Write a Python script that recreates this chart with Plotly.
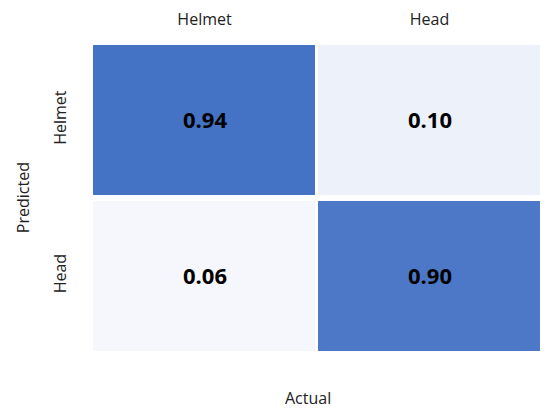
import plotly.graph_objects as go

actual = ["Helmet", "Head"]
predicted = ["Helmet", "Head"]
values = [
    [0.94, 0.10],
    [0.06, 0.90],
]

fig = go.Figure(
    go.Heatmap(
        x=actual,
        y=predicted,
        z=values,
        colorscale=[[0, "#f5f7fc"], [1, "#4472c4"]],
        showscale=False,
        xgap=3,
        ygap=6,
        texttemplate="<b>%{z:.2f}</b>",
        textfont=dict(size=22, color="black", family="Open Sans"),
        hoverinfo="skip",
    )
)

# page has an 8px body margin, so keep the figure inside the window
fig.update_layout(
    width=534,
    height=400,
    margin=dict(l=84, r=0, t=34, b=54),
    plot_bgcolor="white",
    paper_bgcolor="white",
    font=dict(family="Open Sans", size=16, color="#222"),
    xaxis=dict(side="top", showgrid=False, zeroline=False, ticks="",
               ticklabelstandoff=13, automargin=False),
    yaxis=dict(autorange="reversed", showgrid=False, zeroline=False, ticks="",
               tickangle=-90, ticklabelstandoff=22, automargin=False),
    annotations=[
        dict(text="Actual", xref="paper", yref="paper", x=0.48, y=-0.141,
             xanchor="center", yanchor="middle", showarrow=False,
             font=dict(size=16)),
        dict(text="Predicted", xref="paper", yref="paper", x=-0.153, y=0.5,
             xanchor="center", yanchor="middle", showarrow=False,
             textangle=-90, font=dict(size=16)),
    ],
)

fig.write_html("out.html")
